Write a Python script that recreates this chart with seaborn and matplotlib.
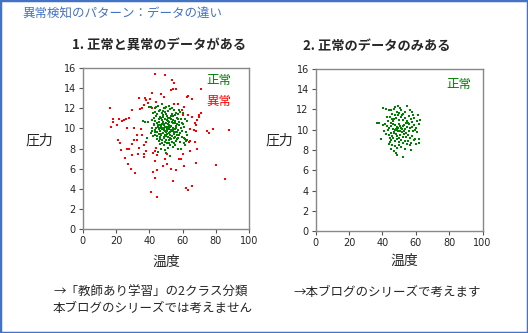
import matplotlib
matplotlib.use("Agg")
import matplotlib.pyplot as plt
import seaborn as sns
import pandas as pd
from matplotlib.patches import Rectangle

# --- data (温度, 圧力) ---
anomaly_pts = [
    (43.1, 15.4), (49.5, 15.3), (53.3, 14.8), (54.9, 14.5), (54.1, 13.9), (56.1, 13.9),
    (52.7, 13.8), (71.1, 13.9), (41.5, 13.5), (46.7, 13.4), (62.5, 13.1), (63.3, 13.2),
    (65.5, 12.9), (33.5, 13.0), (37.1, 13.0), (37.9, 12.8), (40.3, 12.9), (48.7, 13.1),
    (39.3, 12.5), (36.9, 12.3), (43.9, 12.6), (54.9, 12.4), (57.1, 12.4), (60.9, 12.1),
    (16.4, 12.0), (41.3, 12.0), (59.5, 11.8), (29.7, 11.8), (34.5, 11.9), (35.5, 12.0),
    (70.9, 11.5), (69.7, 11.3), (63.1, 11.3), (60.3, 11.3), (65.7, 11.1), (69.9, 11.1),
    (18.4, 10.9), (17.8, 10.6), (21.6, 10.9), (24.6, 10.8), (25.7, 10.9), (27.9, 11.0),
    (68.9, 10.8), (16.8, 10.1), (20.4, 10.3), (23.8, 10.7), (36.1, 10.7), (67.6, 10.5),
    (67.9, 10.3), (26.6, 10.0), (30.9, 10.0), (35.1, 9.9), (64.3, 9.9), (68.3, 9.7),
    (66.9, 9.8), (74.9, 9.7), (75.8, 9.5), (78.4, 9.9), (87.9, 9.8), (32.7, 9.3),
    (35.7, 9.3), (38.3, 9.0), (21.4, 8.8), (30.5, 8.8), (32.3, 8.8), (37.9, 8.6),
    (22.2, 8.5), (64.3, 8.7), (67.3, 8.6), (63.7, 8.6), (29.3, 8.4), (36.7, 8.3),
    (44.1, 8.1), (26.7, 8.0), (27.5, 8.0), (22.9, 7.9), (33.5, 8.1), (57.3, 8.0),
    (68.5, 8.0), (38.1, 7.8), (43.5, 7.8), (45.1, 7.7), (64.5, 7.8), (29.3, 7.4),
    (33.1, 7.5), (36.5, 7.5), (42.3, 7.6), (44.5, 7.4), (50.5, 7.5), (60.1, 7.5),
    (25.5, 7.1), (36.9, 7.2), (49.3, 7.0), (57.7, 7.0), (58.9, 7.0), (43.5, 6.8),
    (27.1, 6.5), (67.9, 6.6), (80.0, 6.4), (48.3, 6.3), (60.9, 6.3), (28.7, 6.0),
    (52.7, 6.0), (56.1, 5.9), (44.7, 5.9), (31.3, 5.6), (42.3, 5.7), (43.1, 5.1),
    (54.1, 4.8), (85.2, 5.0), (61.9, 4.1), (63.3, 3.9), (65.3, 4.3), (40.9, 3.7),
    (44.5, 3.2), (50.4, 6.5),
]

normal_pts_1 = [
    (40.0, 12.1), (43.1, 12.0), (45.3, 12.2), (47.5, 12.4), (48.6, 12.0), (50.2, 12.1),
    (52.2, 11.9), (54.9, 11.8), (57.6, 11.8), (57.2, 11.4), (58.5, 11.6), (59.9, 11.5),
    (43.6, 11.6), (45.9, 11.7), (47.7, 11.5), (49.2, 11.6), (51.1, 11.7), (53.5, 11.4),
    (55.2, 11.3), (44.2, 11.2), (46.6, 11.1), (48.1, 11.3), (50.5, 11.2), (52.6, 11.0),
    (54.3, 11.2), (56.7, 11.0), (59.1, 10.9), (61.2, 10.9), (41.6, 10.8), (43.2, 10.7),
    (45.6, 10.9), (47.3, 10.8), (49.6, 10.9), (51.3, 10.7), (53.2, 10.9), (55.6, 10.7),
    (57.5, 10.6), (59.6, 10.5), (62.3, 10.7), (42.5, 10.4), (44.6, 10.5), (46.2, 10.3),
    (48.7, 10.4), (49.9, 10.1), (51.6, 10.3), (53.9, 10.5), (55.7, 10.2), (57.9, 10.3),
    (60.6, 10.1), (41.3, 10.0), (43.5, 9.8), (45.2, 10.1), (47.3, 9.9), (49.1, 9.7),
    (50.8, 10.0), (52.9, 9.8), (55.1, 9.9), (57.2, 9.8), (59.5, 9.7), (43.1, 9.6),
    (44.8, 9.6), (46.9, 9.4), (48.3, 9.5), (50.6, 9.4), (52.3, 9.6), (54.5, 9.4),
    (56.3, 9.3), (58.6, 9.5), (40.8, 9.5), (44.5, 9.2), (46.3, 9.1), (48.6, 9.0),
    (50.2, 9.2), (52.5, 9.0), (55.1, 9.1), (57.3, 9.0), (59.6, 9.1), (61.5, 8.9),
    (62.8, 8.8), (45.5, 8.7), (47.5, 8.8), (49.3, 8.6), (51.5, 8.8), (53.6, 8.6),
    (55.9, 8.7), (58.3, 8.6), (60.5, 8.5), (62.2, 8.7), (46.2, 8.4), (48.5, 8.3),
    (50.3, 8.5), (52.6, 8.3), (54.6, 8.5), (61.3, 8.3), (46.9, 8.0), (49.1, 7.9),
    (51.2, 8.1), (59.2, 8.0), (57.0, 8.0), (45.2, 7.7), (49.7, 7.6), (52.1, 7.3),
    (43.5, 9.3), (38.9, 10.6), (36.4, 10.7), (37.2, 10.6), (38.4, 9.0),
    (46.0, 10.6), (47.0, 10.2), (48.0, 10.6), (49.0, 10.3), (50.0, 10.5), (51.0, 10.4),
    (52.0, 10.6), (53.0, 10.2), (54.0, 10.0), (45.5, 9.9), (46.5, 9.7), (47.5, 10.0),
    (48.5, 9.8), (49.5, 10.1), (50.5, 9.7), (51.5, 9.9), (52.5, 10.1), (53.5, 9.7),
    (54.7, 9.6), (56.0, 10.0), (45.0, 10.3), (44.0, 10.0), (43.0, 10.3), (46.8, 11.0),
    (48.3, 11.1), (50.9, 11.0), (52.9, 11.2), (54.1, 10.8), (55.3, 10.5), (49.8, 11.4),
    (47.1, 9.3), (49.4, 9.3), (51.7, 9.5), (53.7, 9.2), (55.6, 9.6), (56.8, 9.6),
    (44.7, 8.9), (46.6, 8.9), (48.9, 9.1), (51.0, 9.1), (53.1, 8.9), (54.9, 9.0),
    (56.5, 8.9), (47.8, 8.5), (50.0, 8.8), (52.0, 8.5), (53.9, 8.2), (55.2, 8.3),
    (58.0, 9.3), (58.9, 10.0), (60.0, 10.4), (57.0, 10.9), (55.8, 11.5), (53.8, 12.0),
    (51.5, 12.2), (46.2, 11.8), (44.8, 11.4), (42.6, 11.0), (41.8, 9.7), (42.2, 9.2),
    (61.8, 9.6), (62.6, 9.3), (60.8, 9.0), (50.4, 9.9), (51.2, 10.1), (48.8, 10.0),
    (49.7, 9.6), (52.2, 9.3), (47.6, 10.4), (46.1, 10.0), (53.4, 10.6), (50.7, 10.8),
    (45.8, 9.4), (54.3, 9.8), (56.3, 10.4), (48.1, 11.7), (49.1, 12.0), (44.0, 12.1),
    (42.4, 11.5), (41.0, 12.1),
]

normal_pts_2 = [
    (40.3, 12.1), (42.3, 12.0), (43.9, 11.9), (45.3, 11.9), (49.3, 12.3), (54.9, 12.3),
    (57.8, 11.8), (58.2, 11.5), (61.2, 11.5), (62.2, 11.0), (36.7, 10.7), (37.7, 10.7),
    (39.3, 9.1), (44.3, 8.8), (45.9, 8.5), (46.7, 7.9), (52.3, 7.3), (57.2, 8.0),
    (59.6, 9.1), (61.8, 9.1), (59.8, 8.6), (61.8, 8.7),
    (41.5, 10.6), (42.8, 10.4), (43.6, 10.9), (44.5, 11.3), (45.8, 11.6), (46.9, 12.0),
    (47.8, 11.5), (48.6, 11.8), (50.1, 11.7), (51.2, 11.9), (52.4, 11.6), (53.6, 11.8),
    (55.7, 11.4), (56.8, 11.1), (44.9, 10.7), (46.1, 10.9), (47.2, 11.1), (48.4, 11.2),
    (49.6, 11.0), (50.8, 11.3), (52.0, 11.0), (53.3, 11.2), (54.5, 10.9), (55.9, 10.6),
    (57.4, 10.8), (59.0, 10.5), (60.4, 10.9), (43.2, 10.0), (44.2, 10.2), (45.3, 10.4),
    (46.4, 10.1), (47.5, 10.5), (48.7, 10.3), (49.8, 10.6), (50.9, 10.2), (52.1, 10.4),
    (53.2, 10.1), (54.4, 10.3), (55.6, 9.9), (56.7, 10.2), (58.2, 9.9), (60.8, 9.8),
    (42.0, 9.6), (43.7, 9.5), (44.9, 9.7), (46.0, 9.4), (47.1, 9.8), (48.2, 9.6),
    (49.3, 9.9), (50.5, 9.5), (51.6, 9.8), (52.8, 9.6), (53.9, 9.3), (55.0, 9.5),
    (56.2, 9.2), (57.5, 9.4), (45.4, 9.0), (46.6, 9.2), (47.8, 8.9), (49.0, 9.1),
    (50.1, 8.8), (51.3, 9.0), (52.5, 8.7), (53.7, 8.9), (54.8, 8.6), (56.4, 8.5),
    (47.3, 8.4), (48.5, 8.2), (49.7, 8.5), (51.0, 8.3), (53.2, 8.1), (47.9, 7.7),
    (50.7, 9.9), (49.0, 10.0), (51.9, 10.1), (48.0, 10.1), (50.3, 10.4), (46.8, 9.7),
    (53.0, 9.9), (44.4, 9.2), (55.3, 10.7), (45.6, 11.1), (51.4, 11.5), (49.5, 10.2),
    (52.6, 10.5), (47.4, 10.0), (54.1, 9.7), (50.0, 9.2), (48.6, 9.4), (52.0, 9.3),
    (46.3, 10.6), (49.2, 11.5), (53.9, 10.7), (57.9, 10.3), (41.2, 9.9), (40.5, 10.5),
    (58.6, 9.0), (55.5, 8.9), (44.0, 8.6), (50.4, 12.1), (47.6, 12.2), (56.3, 11.9),
    (58.9, 11.2), (42.7, 11.3), (57.1, 8.7), (59.4, 10.0), (60.2, 10.2), (61.6, 10.6),
    (48.9, 7.5), (45.0, 8.1),
]

x_ticks = [0, 20, 40, 60, 80, 100]
y_ticks = [0, 2, 4, 6, 8, 10, 12, 14, 16]

df_normal_1 = pd.DataFrame(normal_pts_1, columns=["温度", "圧力"])
df_anomaly = pd.DataFrame(anomaly_pts, columns=["温度", "圧力"])
df_normal_2 = pd.DataFrame(normal_pts_2, columns=["温度", "圧力"])

sns.set_theme(style="white")
plt.rcParams["font.family"] = ["DejaVu Sans", "Noto Sans CJK JP"]
jp = ["Noto Sans CJK JP", "DejaVu Sans"]

GREEN = "#008000"
RED = "#FF0000"
BLUE = "#4472C4"

fig = plt.figure(figsize=(5.28, 3.33), dpi=100)
ax1 = fig.add_axes([0.157, 0.312, 0.315, 0.484])
ax2 = fig.add_axes([0.598, 0.306, 0.316, 0.487])

sns.scatterplot(data=df_anomaly, x="温度", y="圧力", ax=ax1, color=RED,
                s=4, marker="s", linewidth=0)
sns.scatterplot(data=df_normal_1, x="温度", y="圧力", ax=ax1, color=GREEN,
                s=4, marker="s", linewidth=0)
sns.scatterplot(data=df_normal_2, x="温度", y="圧力", ax=ax2, color=GREEN,
                s=4, marker="s", linewidth=0)

for ax in (ax1, ax2):
    ax.set_xlim(0, 100)
    ax.set_ylim(0, 16)
    ax.set_xticks(x_ticks)
    ax.set_yticks(y_ticks)
    ax.tick_params(labelsize=7, length=3, width=0.8, color="#555555",
                   left=True, bottom=True, pad=2)
    for sp in ax.spines.values():
        sp.set_color("#888888")
        sp.set_linewidth(1)
    ax.set_xlabel("温度", fontsize=10, family=jp)
    ax.set_ylabel("圧力", fontsize=10, family=jp, rotation=0, va="center", ha="center")

ax1.xaxis.set_label_coords(0.5, -0.16)
ax1.yaxis.set_label_coords(-0.26, 0.55)
ax2.xaxis.set_label_coords(0.53, -0.14)
ax2.yaxis.set_label_coords(-0.22, 0.56)

ax1.text(74, 14.8, "正常", color=GREEN, fontsize=9, family=jp, va="center")
ax1.text(74, 12.7, "異常", color=RED, fontsize=9, family=jp, va="center")
ax2.text(78, 14.5, "正常", color=GREEN, fontsize=9, family=jp, va="center")

fig.text(22 / 528, 1 - 14 / 333, "異常検知のパターン：データの違い", color=BLUE,
         fontsize=9, family=jp, va="center", ha="left")
fig.text(72 / 528, 1 - 46 / 333, "1. 正常と異常のデータがある", fontsize=9.5,
         fontweight="bold", family=jp, va="center", ha="left")
fig.text(303 / 528, 1 - 46 / 333, "2. 正常のデータのみある", fontsize=9.5,
         fontweight="bold", family=jp, va="center", ha="left")

fig.text(53 / 528, 1 - 292 / 333, "→「教師あり学習」の2クラス分類", fontsize=9,
         family=jp, va="center", ha="left")
fig.text(53 / 528, 1 - 308 / 333, "本ブログのシリーズでは考えません", fontsize=9,
         family=jp, va="center", ha="left")
fig.text(293 / 528, 1 - 292 / 333, "→本ブログのシリーズで考えます", fontsize=9,
         family=jp, va="center", ha="left")

fig.patches.append(Rectangle((0, 0), 1, 1, transform=fig.transFigure, fill=False,
                             edgecolor=BLUE, linewidth=2.5, zorder=10))

fig.savefig("out.png", dpi=100)
